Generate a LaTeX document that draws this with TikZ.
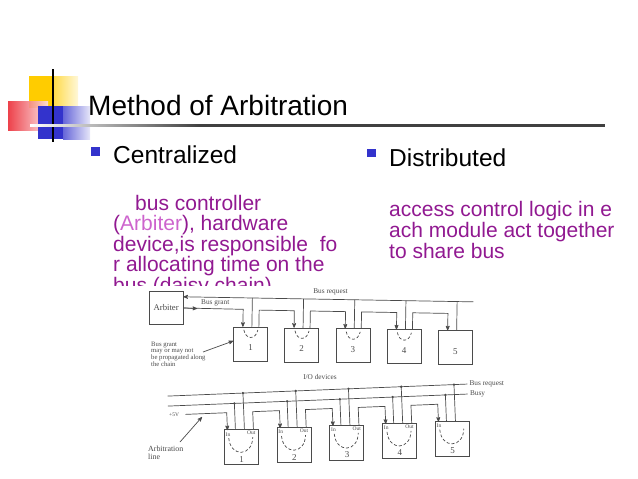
\documentclass[tikz,border=0pt]{standalone}
\usepackage{fontspec}
\setmainfont{Liberation Sans}
\newfontfamily\scanfont{Liberation Serif}
\usetikzlibrary{arrows}
\usepackage{xcolor}
\definecolor{slidepurple}{RGB}{145,25,145}
\definecolor{slidepink}{RGB}{205,100,205}
\definecolor{bulletblue}{RGB}{51,51,204}
\definecolor{sqyellow}{RGB}{255,204,0}
\definecolor{sqred}{RGB}{235,45,55}
\definecolor{scan}{RGB}{75,75,75}

\begin{document}
\begin{tikzpicture}[x=1pt, y=-1pt, >=stealth',
  txt/.style={inner sep=0, anchor=base west},
  purp/.style={txt, text=slidepurple, font=\fontsize{21}{21}\selectfont},
  dev/.style={draw=scan, line width=.7pt, minimum width=34pt, minimum height=34pt, inner sep=0, text=scan, font=\scanfont},
  num/.style={text=scan, font=\scanfont\fontsize{9}{9}\selectfont, inner sep=0},
  lbl/.style={text=scan, font=\scanfont\fontsize{7.3}{7.6}\selectfont, inner sep=0},
  tiny/.style={text=scan, font=\scanfont\fontsize{5.5}{5.5}\selectfont, inner sep=0},
  wire/.style={draw=scan, line width=.7pt}]
\useasboundingbox (0,0) rectangle (638,479);

% corner squares
\fill[sqyellow] (29,76) rectangle (54,108);
\shade[left color=sqyellow!70, right color=sqyellow!15] (54,76) rectangle (78,108);
\shade[left color=sqred, right color=sqred!15, opacity=.9] (8,101) rectangle (48,130);
\fill[bulletblue] (38,106) rectangle (63,139);
\shade[left color=bulletblue!75, right color=bulletblue!12] (63,106) rectangle (90,139);
\draw[black, line width=1.6pt] (53,69) -- (53,142);
\shade[left color=white, right color=black!75] (30,124) rectangle (200,126.5);
\fill[black!75] (200,124) rectangle (605,126.5);

% title and bullets
\node[txt, font=\fontsize{28}{28}\selectfont] (title) at (88,115) {Method of Arbitration};
\fill[bulletblue] (91,147) rectangle (100,156);
\fill[bulletblue] (367,149) rectangle (376,157);
\node[txt, font=\fontsize{24.5}{24.5}\selectfont] (cent) at (113,163) {Centralized};
\node[txt, font=\fontsize{24.5}{24.5}\selectfont] (dist) at (389,166) {Distributed};

\node[purp] (cl0) at (135,210) {bus controller};
\foreach \t [count=\i] in {{(\textcolor{slidepink}{Arbiter}), hardware}, {device,is responsible\ \ fo}, r allocating time on the, bus (daisy chain)}
 \node[purp] (cl\i) at (113,{210+20.5*\i}) {\t};
\foreach \t [count=\i] in {access control logic in e, ach module act together, to share bus}
 \node[purp] (dl\i) at (389,{216+21*(\i-1)}) {\t};

% scanned figure
\fill[white] (100,285.5) rectangle (520,479);

\begin{scope}[rotate around={-1:(310,320)}]
\node[dev, minimum height=33pt] (arb) at (166,310.5) {\fontsize{8.7}{8.7}\selectfont Arbiter};
\coordinate (rqe) at (473,299);
\coordinate (rqa) at (183,299);
\draw[wire,->] (rqe) -- (rqa);
\node[lbl] (rqt) at (330,291.5) {Bus request};
\node[lbl] (gtt) at (215,305) {Bus grant};
\draw[wire,->] (arb.east) -- (197,310.5);
\draw[wire,->] (arb.east) -- (243,310.5) -- (243,328);
\foreach \i in {1,...,5} {
 \pgfmathsetmacro\x{234+51.2*(\i-1)}
 \node[dev] (d\i) at (\x+17,345) {};
 \node[num] (n\i) at (\x+17,349) {\i};
 \draw[wire] (\x+18,299) -- (\x+18,328);
}
\foreach \i in {1,...,4} {
 \pgfmathsetmacro\x{234+51.2*(\i-1)}
 \draw[wire, dash pattern=on 3pt off 2pt] (\x+10,331) .. controls (\x+12,341) and (\x+22,341) .. (\x+24,331);
 \draw[wire,->] (\x+25,328) -- (\x+25,311) -- (\x+60.2,311) -- (\x+60.2,328);
}
\end{scope}
\node[lbl, font=\scanfont\fontsize{6.7}{6.8}\selectfont, anchor=north west, align=left] (note) at (151,341.5) {Bus grant\\may or may not\\be propagated along\\the chain};
\coordinate (nt) at (203,352);
\draw[wire,->] (nt) -- ([yshift=3pt]d1.west);

\node[lbl] (io) at (320,377) {I/O devices};

\begin{scope}[rotate around={2.3:(320,430)}]
\draw[wire] (169,390) -- (469,390) node[lbl, anchor=west, xshift=2pt] (rql) {Bus request};
\draw[wire] (169,400) -- (469,400) node[lbl, anchor=west, xshift=2pt] (byl) {Busy};
\node[tiny, anchor=east, inner xsep=6pt] (v5) at (186,409) {+5V};
\draw[wire,->] (v5.east) -- (227.5,409) -- (227.5,426.5);
\foreach \i in {1,...,5} {
 \pgfmathsetmacro\x{223.5+52.8*(\i-1)}
 \node[dev, minimum height=35pt] (b\i) at (\x+17,444) {};
 \node[num] (m\i) at (\x+17,456) {\i};
 \node[tiny, anchor=north west] (in\i) at (\x+2,428.5) {In};
 \draw[wire, dash pattern=on 3pt off 2pt] (\x+5,434.5) .. controls (\x+6,454) and (\x+28,454) .. (\x+29,434.5);
 \draw[wire] (\x+12,400) -- (\x+12,426.5);
 \draw[wire] (\x+21,390) -- (\x+21,426.5);
 \fill[scan] (\x+12,400) circle (1.3);
 \fill[scan] (\x+21,390) circle (1.3);
}
\foreach \i in {1,...,4} {
 \pgfmathsetmacro\x{223.5+52.8*(\i-1)}
 \node[tiny, anchor=north east] (out\i) at (\x+32,428.5) {Out};
 \draw[wire,->] (\x+30,426.5) -- (\x+30,409) -- (\x+56.8,409) -- (\x+56.8,426.5);
}
\end{scope}
\node[lbl, font=\scanfont\fontsize{7.9}{8.2}\selectfont, anchor=north west, align=left] (arbl) at (148,446) {Arbitration\\line};
\coordinate (arbt) at (180,442);
\coordinate (arbh) at (202,417);
\draw[wire,->] (arbt) -- (arbh);
\end{tikzpicture}
\end{document}
